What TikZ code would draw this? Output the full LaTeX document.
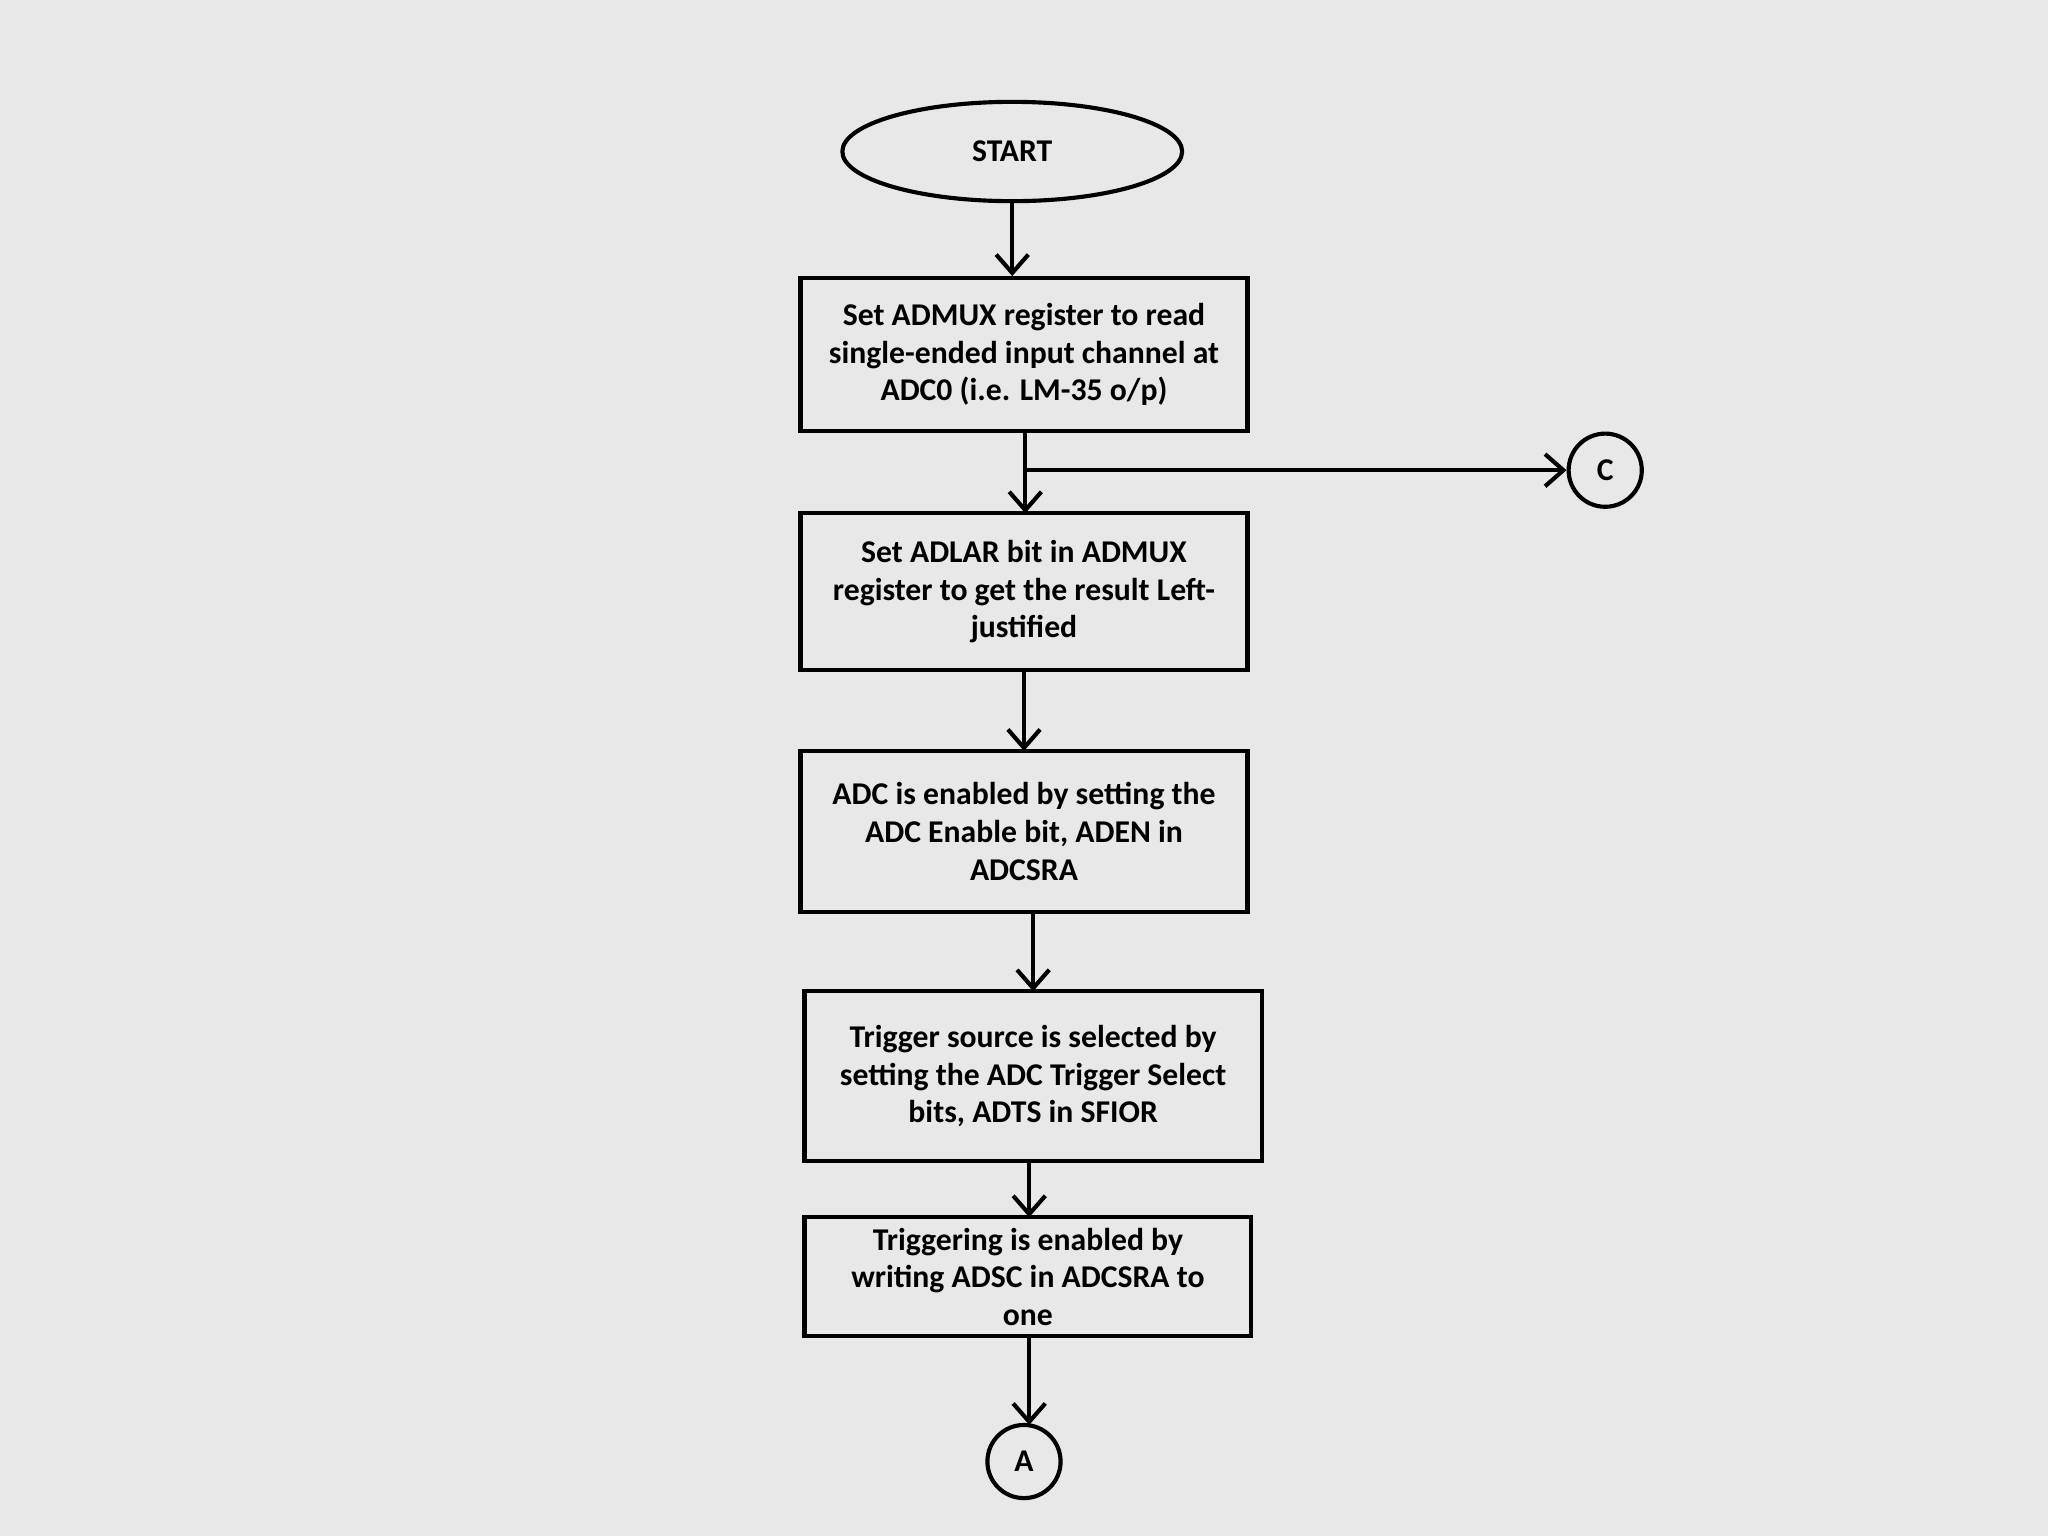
\documentclass[tikz,border=0pt]{standalone}
\usepackage{fontspec}
\setmainfont{Carlito}
\usetikzlibrary{shapes.geometric,arrows.meta}
\begin{document}
\begin{tikzpicture}[x=0.01cm,y=-0.01cm,
  txt/.style={font=\bfseries\fontsize{6.9}{8.2}\selectfont,align=center},
  box/.style={draw,line width=0.9pt,txt,inner sep=0pt},
  conn/.style={draw,line width=0.9pt,circle,txt,minimum size=0.56cm,inner sep=0pt},
  arr/.style={line width=0.9pt,-{Straight Barb[length=4pt,width=7pt]}}]
\fill[gray!18] (0,0) rectangle (1568,1176);
\useasboundingbox (0,0) rectangle (1568,1176);
\node[draw,line width=0.9pt,ellipse,minimum width=2.6cm,minimum height=0.76cm,txt] (start) at (775,116) {START};
\node[box,minimum width=3.42cm,minimum height=1.17cm] (b1) at (784,271.5) {Set ADMUX register to read\\single-ended input channel at\\ADC0 (i.e. LM-35 o/p)};
\node[box,minimum width=3.42cm,minimum height=1.20cm] (b2) at (784,453) {Set ADLAR bit in ADMUX\\register to get the result Left-\\justified};
\node[box,minimum width=3.42cm,minimum height=1.23cm] (b3) at (784,636.5) {ADC is enabled by setting the\\ADC Enable bit, ADEN in\\ADCSRA};
\node[box,minimum width=3.50cm,minimum height=1.30cm] (b4) at (791,824) {Trigger source is selected by\\setting the ADC Trigger Select\\bits, ADTS in SFIOR};
\node[box,minimum width=3.42cm,minimum height=0.91cm] (b5) at (787,977.5) {Triggering is enabled by\\writing ADSC in ADCSRA to\\one};
\node[conn] (C) at (1229,360) {C};
\node[conn] (A) at (784,1119) {A};
\draw[arr] (start.south) -- (start.south |- b1.north);
\draw[arr] (785,330) -- (785,393);
\coordinate (br) at (785,360);
\draw[arr] (br) -- (C.west);
\draw[arr] (784,513) -- (784,575);
\draw[arr] (791,698) -- (791,759);
\draw[arr] (788,889) -- (788,932);
\draw[arr] (788,1023) -- (788,1091);
\end{tikzpicture}
\end{document}
